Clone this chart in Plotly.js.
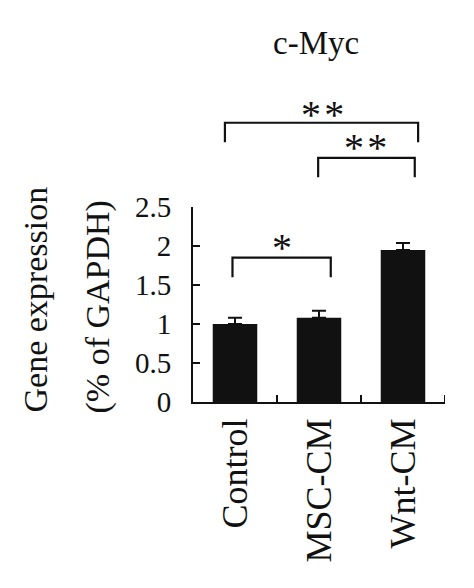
<!DOCTYPE html>
<html>
<head>
<meta charset="utf-8">
<script src="https://cdn.plot.ly/plotly-3.0.1.min.js"></script>
<style>html,body{margin:0;padding:0;background:#fff;}#chart{width:474px;height:588px;}</style>
</head>
<body>
<div id="chart"></div>
<script>
// ---- data ----
var categories = ["Control", "MSC-CM", "Wnt-CM"];
var expression = [1.0, 1.08, 1.95];
var errorUp = [0.08, 0.09, 0.09];
var yTickValues = [0, 0.5, 1, 1.5, 2, 2.5];
var yTickLabels = ["0", "0.5", "1", "1.5", "2", "2.5"];
var chartTitle = "c-Myc";
var yTitleLines = ["Gene expression", "(% of GAPDH)"];
// significance brackets (axis units)
var bracketLeft = [-0.03, -0.12, 0.99];
var bracketRight = [1.14, 2.18, 2.14];
var bracketTop = [1.85, 3.58, 3.13];
var bracketLeg = [1.60, 3.33, 2.88];
var bracketLabel = ["*", "*\u200A*", "*\u200A*"];
var labelX = [0.56, 1.04, 1.55];
var labelY = [1.98, 3.69, 3.26];

var Y_MAX = 2.5;
var FONT = '"Liberation Serif", "Times New Roman", serif';

var trace = {
  type: "bar",
  x: [0, 1, 2],
  y: expression,
  width: 0.53,
  marker: {color: "#111", line: {width: 0}},
  error_y: {type: "data", symmetric: false, array: errorUp, arrayminus: [0, 0, 0],
            color: "#111", thickness: 2, width: 7},
  hoverinfo: "none"
};

var shapes = [];
var annotations = [];
for (var i = 0; i < bracketLeft.length; i++) {
  var pts = "M" + bracketLeft[i] + "," + (bracketLeg[i] / Y_MAX) +
            " L" + bracketLeft[i] + "," + (bracketTop[i] / Y_MAX) +
            " L" + bracketRight[i] + "," + (bracketTop[i] / Y_MAX) +
            " L" + bracketRight[i] + "," + (bracketLeg[i] / Y_MAX);
  shapes.push({type: "path", xref: "x", yref: "paper", path: pts,
               line: {color: "#111", width: 2.2}});
  annotations.push({text: bracketLabel[i], x: labelX[i], y: labelY[i] / Y_MAX, xref: "x", yref: "paper",
                    showarrow: false, xanchor: "center", yanchor: "middle",
                    font: {family: FONT, size: 40, color: "#111"}});
}
annotations.push({text: yTitleLines[0], textangle: -90, x: 0, xref: "paper", y: 0.5, yref: "paper",
                  xanchor: "center", yanchor: "middle", xshift: -158, yshift: 5, showarrow: false,
                  font: {family: FONT, size: 34, color: "#111"}});
annotations.push({text: yTitleLines[1], textangle: -90, x: 0, xref: "paper", y: 0.5, yref: "paper",
                  xanchor: "center", yanchor: "middle", xshift: -96, yshift: -3, showarrow: false,
                  font: {family: FONT, size: 34, color: "#111"}});

var layout = {
  width: 474, height: 588,
  margin: {l: 193, r: 29, t: 207, b: 186, pad: 0},
  paper_bgcolor: "#fff", plot_bgcolor: "#fff",
  showlegend: false,
  title: {text: chartTitle, xref: "container", yref: "container", x: 0.667, y: 0.927,
          xanchor: "center", yanchor: "middle", font: {family: FONT, size: 33, color: "#111"}},
  xaxis: {
    type: "linear", range: [-0.5, 2.5], tickmode: "array", tickvals: [0, 1, 2], ticktext: categories,
    showgrid: false, zeroline: false, showline: true, linecolor: "#111", linewidth: 2,
    ticks: "", tickangle: -90, ticklabelstandoff: 0,
    tickfont: {family: FONT, size: 36, color: "#111"}
  },
  yaxis: {
    range: [0, Y_MAX], tickmode: "array", tickvals: yTickValues, ticktext: yTickLabels,
    showgrid: false, zeroline: false, showline: true, linecolor: "#111", linewidth: 2,
    ticks: "inside", ticklen: 7, tickwidth: 2, tickcolor: "#111", ticklabelstandoff: 14,
    tickfont: {family: FONT, size: 29, color: "#111"}
  },
  shapes: shapes,
  annotations: annotations
};

// x-axis boundary ticks (inside, pointing up) at category boundaries
var boundaries = [0.5, 1.5, 2.5];
for (var b = 0; b < boundaries.length; b++) {
  layout.shapes.push({type: "line", xref: "x", yref: "paper", x0: boundaries[b], x1: boundaries[b],
                      y0: 0, y1: 7 / 195, line: {color: "#111", width: 2}});
}

Plotly.newPlot("chart", [trace], layout, {staticPlot: true});
</script>
</body>
</html>
